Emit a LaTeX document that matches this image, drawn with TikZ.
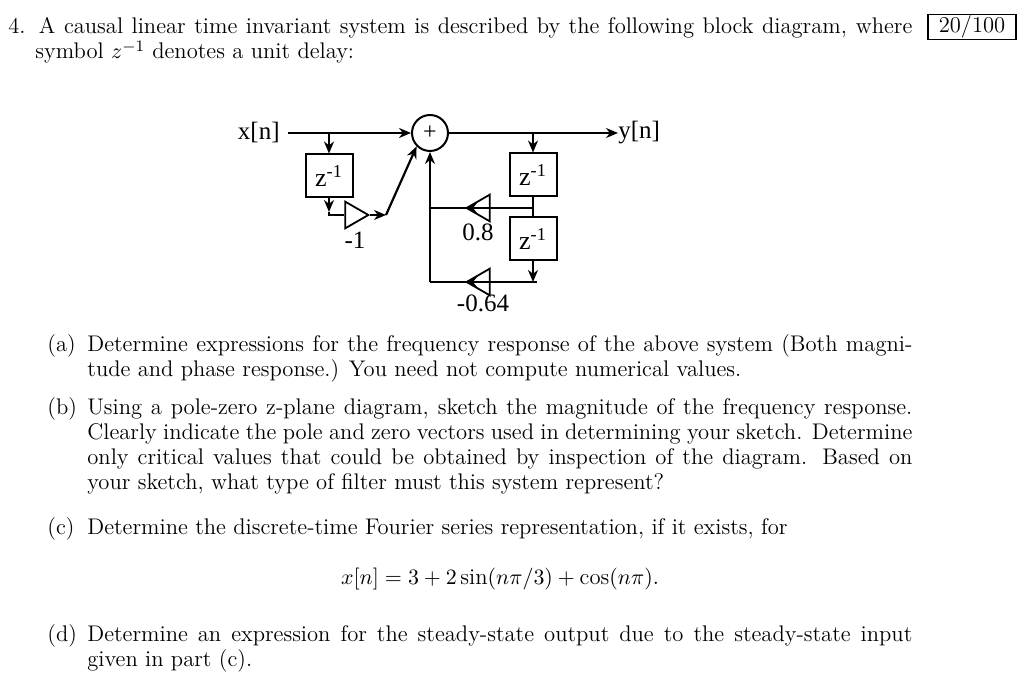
\documentclass[tikz,border=0pt]{standalone}
\usepackage{fontspec}
\newfontfamily\tms{Liberation Serif}
\usetikzlibrary{arrows.meta,shapes.geometric}
\begin{document}
\begin{tikzpicture}[x=0.5pt,y=-0.5pt,
  txt/.style={anchor=base west,inner sep=0pt,font=\fontsize{11.3}{13}\selectfont},
  dl/.style={draw,line width=1pt,minimum width=23.5pt,minimum height=21.5pt,inner sep=0pt,font=\tms\fontsize{13}{15}\selectfont},
  wire/.style={line width=1.1pt},
  arr/.style={wire,-{Stealth[length=6pt,width=5pt]}},
  amp/.style={draw,line width=0.9pt,isosceles triangle,isosceles triangle apex angle=60,minimum height=11.5pt,inner sep=0pt},
  lab/.style={font=\tms\fontsize{12.5}{14}\selectfont,inner sep=0pt}]
\useasboundingbox (0,0) rectangle (1024,688);
\newcommand{\jline}[3]{\node[txt] at (#1,#2) {\makebox[\dimexpr(912pt-#1pt)/2\relax][s]{#3}};}
\newcommand{\pline}[3]{\node[txt] at (#1,#2) {#3};}
\jline{8}{34}{4. A causal linear time invariant system is described by the following block diagram, where}
\pline{35}{59}{symbol $z^{-1}$ denotes a unit delay:}
\node[draw,line width=0.6pt,minimum width=44pt,minimum height=12.5pt,inner sep=0pt,font=\fontsize{11.3}{13}\selectfont] (score) at (972,27) {20/100};
% diagram
\node[lab,anchor=east] (x) at (280,133) {x[n]};
\node[lab,anchor=west] (y) at (618,133) {y[n]};
\node[draw,circle,line width=1pt,minimum size=18pt,inner sep=0pt,font=\tms\fontsize{12}{14}\selectfont] (s) at (430,133) {+};
\node[dl] (d0) at (329,176) {z\textsuperscript{-1}};
\node[dl] (d1) at (533,175) {z\textsuperscript{-1}};
\node[dl] (d2) at (533,239) {z\textsuperscript{-1}};
\node[amp] (g0) at (353,215) {};
\node[amp,shape border rotate=180] (g1) at (482,208) {};
\node[amp,shape border rotate=180] (g2) at (482,282) {};
\node[lab] at (355,240) {-1};
\node[lab] at (478,232) {0.8};
\node[lab] at (483,303) {-0.64};
\coordinate (a) at (288,133);
\coordinate (b0) at (329,133);
\coordinate (b1) at (533,133);
\coordinate (c0) at (329,215);
\coordinate (c0a) at (329,212);
\coordinate (c1) at (386,215);
\coordinate (t1) at (533,208);
\coordinate (t2) at (533,282);
\coordinate (t2a) at (537,282);
\coordinate (f) at (430,282);
\coordinate (f1) at (430,208);
\draw[arr] (a) -- (s);
\draw[arr] (b0) -- (d0);
\draw[arr] (d0) -- (c0a);
\draw[wire] (c0a) -- (c0) -- (g0.west);
\draw[arr] (g0.east) -- (c1);
\draw[arr] (c1) -- (s.225);
\draw[arr] (s) -- (y);
\draw[arr] (b1) -- (d1);
\draw[wire] (d1) -- (d2);
\draw[arr] (t1) -- (g1.west);
\draw[arr] (d2) -- (t2);
\draw[arr] (t2a) -- (g2.west);
\draw[wire] (g2.east) -- (f);
\draw[wire] (g1.east) -- (f1);
\draw[arr] (f) -- (s);
% questions
\pline{47}{352}{(a)}
\jline{87}{352}{Determine expressions for the frequency response of the above system (Both magni-}
\pline{87}{377}{tude and phase response.) You need not compute numerical values.}
\pline{47}{415}{(b)}
\jline{87}{415}{Using a pole-zero z-plane diagram, sketch the magnitude of the frequency response.}
\jline{87}{440}{Clearly indicate the pole and zero vectors used in determining your sketch. Determine}
\jline{87}{465}{only critical values that could be obtained by inspection of the diagram. Based on}
\pline{87}{490}{your sketch, what type of filter must this system represent?}
\pline{47}{535}{(c)}
\pline{87}{535}{Determine the discrete-time Fourier series representation, if it exists, for}
\node[txt,anchor=base] at (500,585) {$x[n]=3+2\sin(n\pi/3)+\cos(n\pi).$};
\pline{47}{642}{(d)}
\jline{87}{642}{Determine an expression for the steady-state output due to the steady-state input}
\pline{87}{667}{given in part (c).}
\end{tikzpicture}
\end{document}
